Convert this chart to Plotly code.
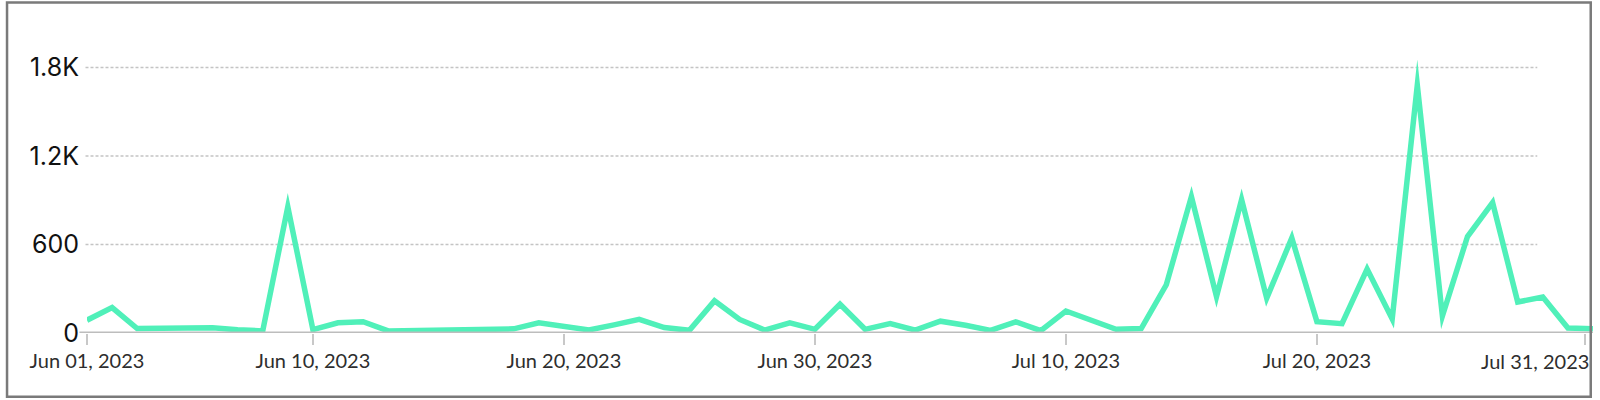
import pandas as pd
import plotly.graph_objects as go

# daily values, Jun 01 - Jul 31 2023
dates = pd.date_range("2023-06-01", "2023-07-31", freq="D")
values = [87, 172, 30, 33, 35, 36, 22, 14, 855, 23,
          69, 76, 14, 17, 20, 22, 25, 28, 69, 43,
          20, 55, 92, 37, 18, 218, 92, 20, 69, 25,
          195, 25, 64, 20, 80, 52, 18, 76, 16, 149,
          85, 25, 30, 327, 925, 247, 905, 236, 644, 77,
          63, 433, 95, 1680, 115, 654, 884, 210, 244, 34,
          28]

x_tickvals = ["2023-06-01", "2023-06-10", "2023-06-20", "2023-06-30",
              "2023-07-10", "2023-07-20", "2023-07-30 16:00"]
x_ticktext = ["Jun 01, 2023", "Jun 10, 2023", "Jun 20, 2023", "Jun 30, 2023",
              "Jul 10, 2023", "Jul 20, 2023", ""]
last_label = "Jul 31, 2023"
y_tickvals = [0, 600, 1200, 1800]
y_ticktext = ["0", "600", "1.2K", "1.8K"]

fig = go.Figure()
fig.add_trace(go.Scatter(
    x=dates, y=values, mode="lines",
    line=dict(color="#50F0B9", width=5.5),
    hoverinfo="x+y", showlegend=False,
))

# dashed grid lines (they stop short of the right edge in the original)
shapes = []
for v in y_tickvals[1:]:
    shapes.append(dict(type="line", xref="paper", yref="y",
                       x0=-0.001, x1=0.963, y0=v, y1=v,
                       line=dict(color="#c4c4c4", width=1.5, dash="3px,2px"),
                       layer="below"))
# baseline
shapes.append(dict(type="line", xref="paper", yref="y",
                   x0=-0.005, x1=1, y0=0, y1=0,
                   line=dict(color="#bdbdbd", width=3), layer="above"))
# outer frame
shapes.append(dict(type="rect", xref="paper", yref="paper",
                   x0=-0.0531, x1=0.9985, y0=-0.216, y1=1.12,
                   line=dict(color="#7a7a7a", width=2.5), layer="above"))

# last date label sits flush against the right end of the axis
annotations = [dict(x="2023-07-31", y=0, xref="x", yref="paper",
                    text=last_label, showarrow=False,
                    xanchor="right", yanchor="top", xshift=-2, yshift=-14,
                    font=dict(family="Lato, sans-serif", size=20, color="#2e2e2e"))]

fig.update_layout(
    width=1600, height=400,
    margin=dict(l=87, r=7, t=38, b=67),
    paper_bgcolor="white", plot_bgcolor="white",
    shapes=shapes, annotations=annotations,
    xaxis=dict(
        type="date", range=["2023-06-01", "2023-07-31"],
        tickvals=x_tickvals, ticktext=x_ticktext,
        showgrid=False, zeroline=False, showline=False,
        ticks="outside", ticklen=11, tickwidth=2, tickcolor="#c8c8c8",
        tickfont=dict(family="Lato, sans-serif", size=20, color="#2e2e2e"),
        ticklabelstandoff=-1, automargin=False,
    ),
    yaxis=dict(
        range=[0, 2000],
        tickvals=y_tickvals, ticktext=y_ticktext,
        showgrid=False, zeroline=False, showline=False,
        ticks="outside", ticklen=2, tickcolor="rgba(0,0,0,0)",
        tickfont=dict(family="Inter, sans-serif", size=25, color="#111111"),
        automargin=False,
    ),
)

# no page margin, and sharp (mitred) spike tips like the original
css = ("document.body.style.margin='0';"
       "var s=document.createElement('style');"
       "s.innerHTML='.js-plotly-plot .scatterlayer path.js-line"
       "{stroke-linejoin:miter !important;stroke-miterlimit:12 !important;}';"
       "document.head.appendChild(s);")
fig.write_html("out.html", post_script=css, config={"displayModeBar": False})
